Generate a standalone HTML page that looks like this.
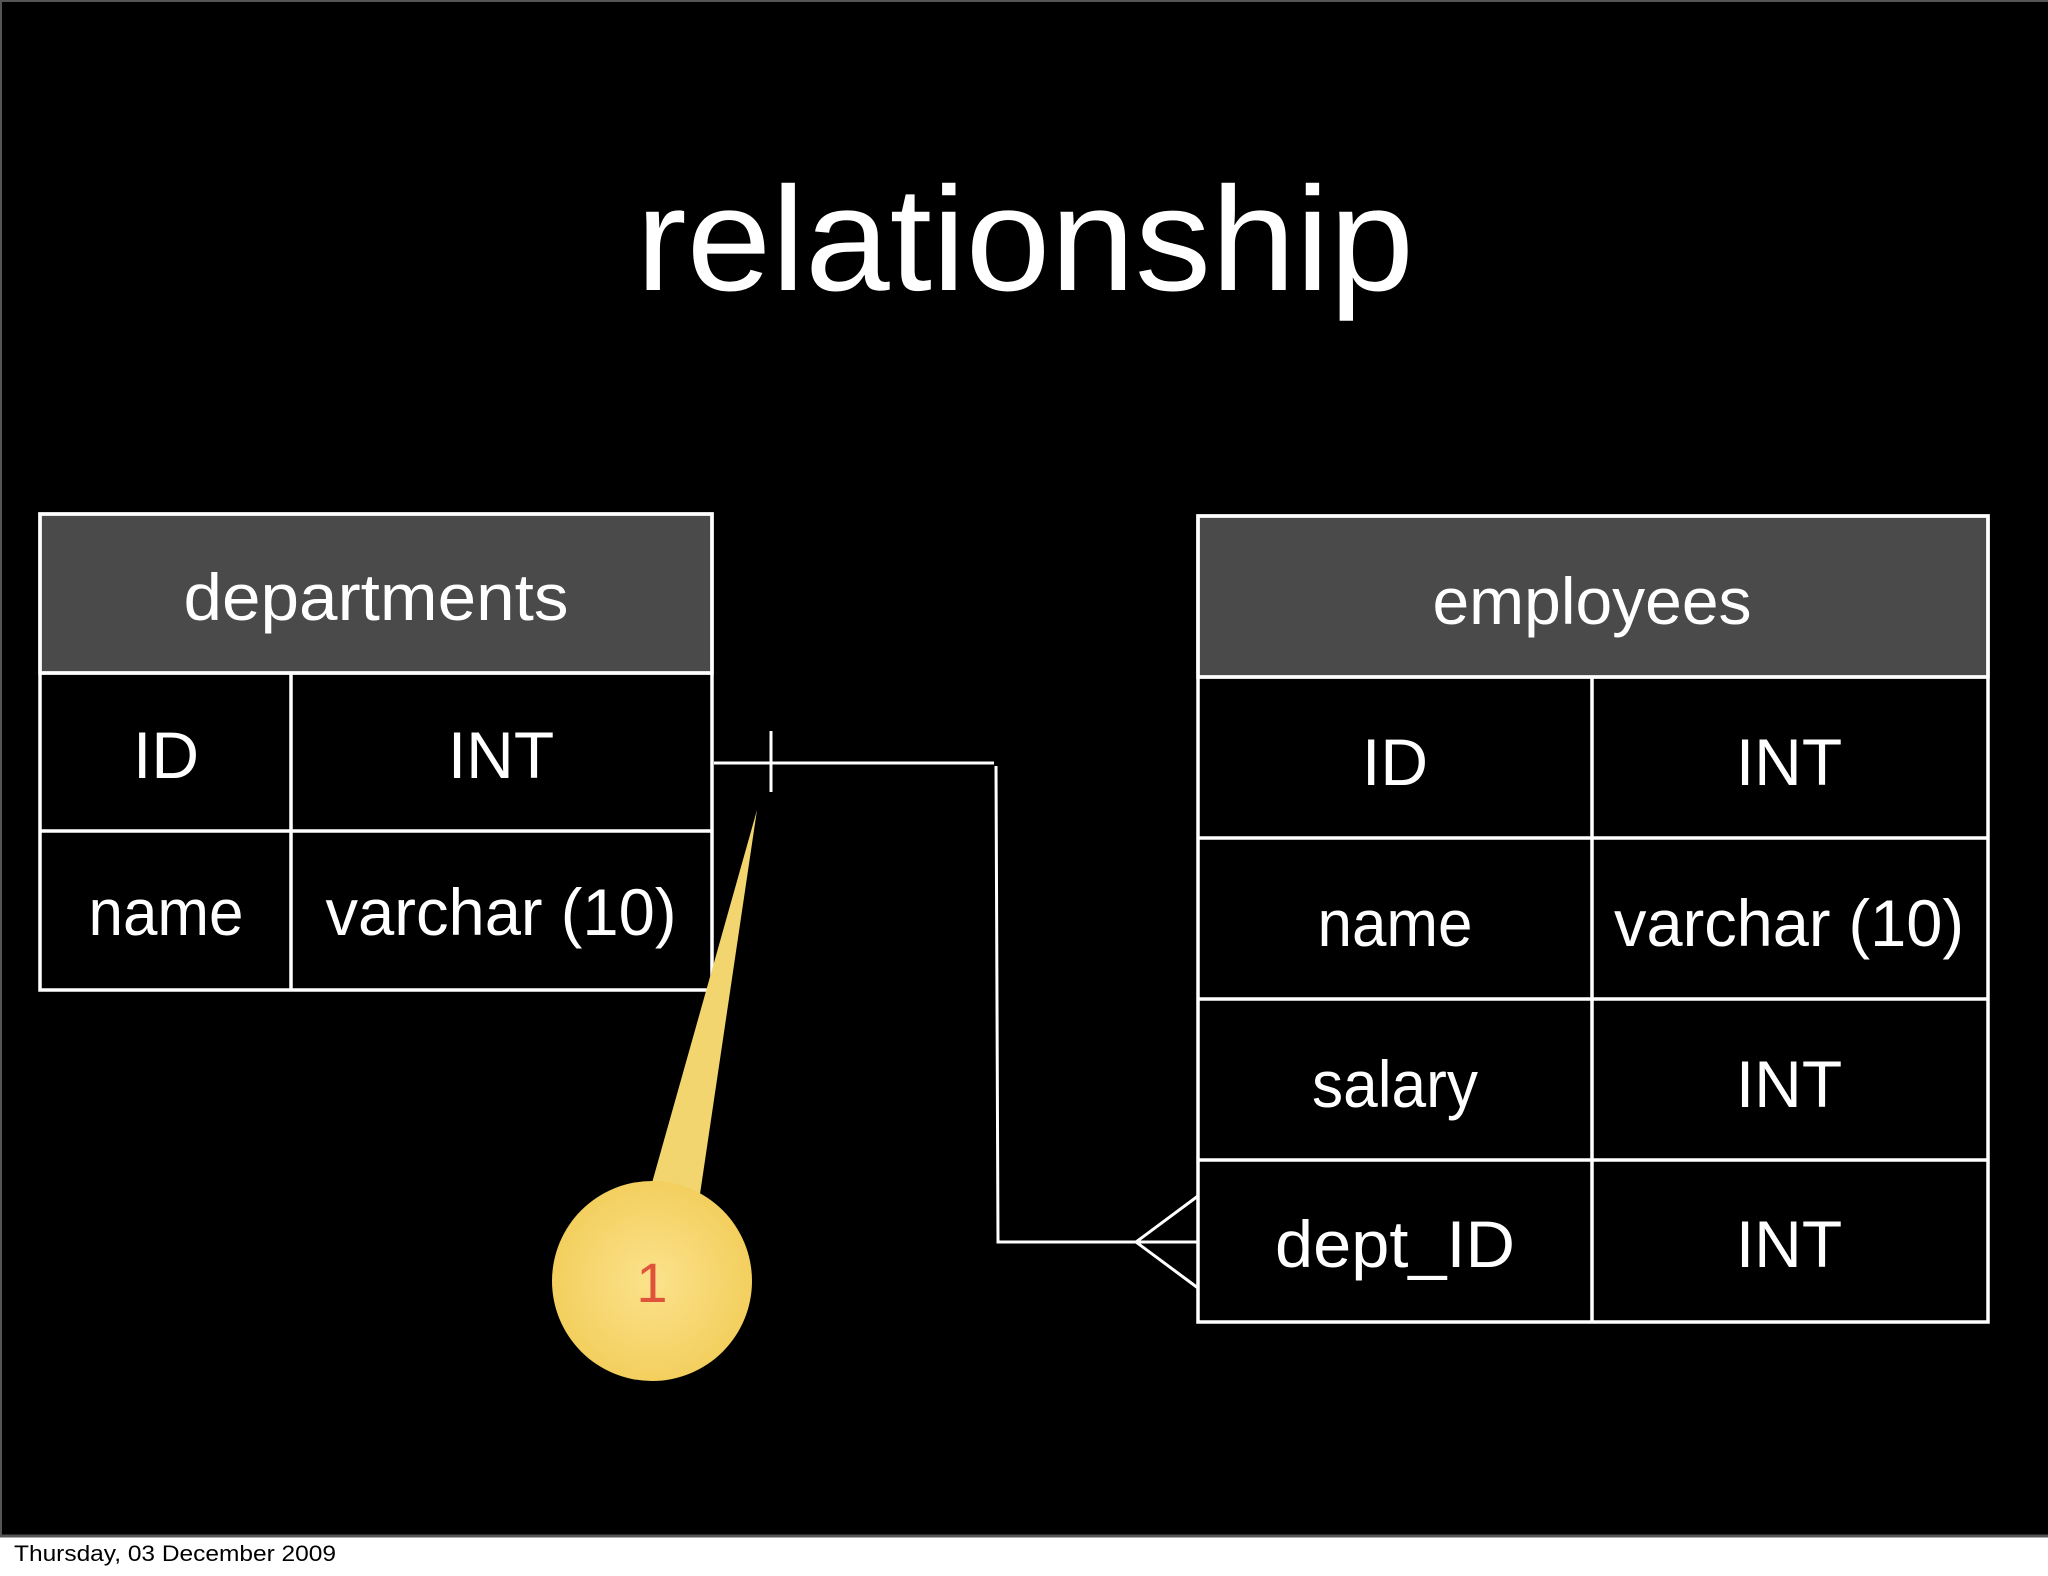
<!DOCTYPE html>
<html><head><meta charset="utf-8"><style>
html,body{margin:0;padding:0;background:#fff;}
svg{display:block;}
</style></head><body>
<svg width="2048" height="1576" viewBox="0 0 2048 1576" xmlns="http://www.w3.org/2000/svg" font-family="'Liberation Sans', sans-serif">
<rect x="0" y="0" width="2048" height="1576" fill="#fff"/>
<rect x="0" y="0" width="2048" height="1536" fill="#000"/>
<line x1="0" y1="1536" x2="2048" y2="1536" stroke="#555" stroke-width="3"/>
<line x1="1" y1="0" x2="1" y2="1536" stroke="#555" stroke-width="2"/>
<line x1="0" y1="1" x2="2048" y2="1" stroke="#555" stroke-width="2"/>
<text x="14" y="1561" font-size="22" fill="#000" textLength="322" lengthAdjust="spacingAndGlyphs">Thursday, 03 December 2009</text>

<text x="1025" y="290" font-size="148" fill="#fff" text-anchor="middle" textLength="778" lengthAdjust="spacingAndGlyphs">relationship</text>

<g stroke="#fff" stroke-width="3.5" fill="none">
<!-- departments -->
<rect x="40" y="514" width="672" height="159" fill="#4a4a4a"/>
<rect x="40" y="514" width="672" height="476"/>
<line x1="40" y1="673" x2="712" y2="673"/>
<line x1="40" y1="831" x2="712" y2="831"/>
<line x1="291" y1="673" x2="291" y2="990"/>
<!-- employees -->
<rect x="1198" y="516" width="790" height="161" fill="#4a4a4a"/>
<rect x="1198" y="516" width="790" height="806"/>
<line x1="1198" y1="677" x2="1988" y2="677"/>
<line x1="1198" y1="838" x2="1988" y2="838"/>
<line x1="1198" y1="999" x2="1988" y2="999"/>
<line x1="1198" y1="1160" x2="1988" y2="1160"/>
<line x1="1592" y1="677" x2="1592" y2="1322"/>
<!-- connector -->
<polyline points="714,763 994,763" stroke-width="3"/>
<line x1="771" y1="731" x2="771" y2="792" stroke-width="3"/>
<polyline points="996,766 998,1242 1198,1242" stroke-width="3"/>
<polyline points="1198,1196 1136,1242 1198,1288" stroke-width="3"/>
</g>

<g fill="#fff" font-size="66" text-anchor="middle">
<text x="376" y="620" textLength="385" lengthAdjust="spacingAndGlyphs">departments</text>
<text x="166" y="778">ID</text>
<text x="501" y="778">INT</text>
<text x="166" y="935" textLength="155" lengthAdjust="spacingAndGlyphs">name</text>
<text x="501" y="935" textLength="351" lengthAdjust="spacingAndGlyphs">varchar (10)</text>
<text x="1592" y="624" textLength="319" lengthAdjust="spacingAndGlyphs">employees</text>
<text x="1395" y="785">ID</text>
<text x="1789" y="785">INT</text>
<text x="1395" y="946" textLength="155" lengthAdjust="spacingAndGlyphs">name</text>
<text x="1789" y="946" textLength="350" lengthAdjust="spacingAndGlyphs">varchar (10)</text>
<text x="1395" y="1107" textLength="166" lengthAdjust="spacingAndGlyphs">salary</text>
<text x="1789" y="1107">INT</text>
<text x="1395" y="1267" textLength="240" lengthAdjust="spacingAndGlyphs">dept_ID</text>
<text x="1789" y="1267">INT</text>
</g>

<!-- callout -->
<defs><radialGradient id="g" cx="0.5" cy="0.5" r="0.5">
<stop offset="0" stop-color="#fbe28c"/><stop offset="1" stop-color="#f3cf5e"/></radialGradient></defs>
<polygon points="757,810 650,1190 700,1194" fill="#f2d56e"/>
<circle cx="652" cy="1281" r="100" fill="url(#g)"/>
<text x="652" y="1302" font-size="56" fill="#e0533b" text-anchor="middle">1</text>
</svg>
</body></html>
